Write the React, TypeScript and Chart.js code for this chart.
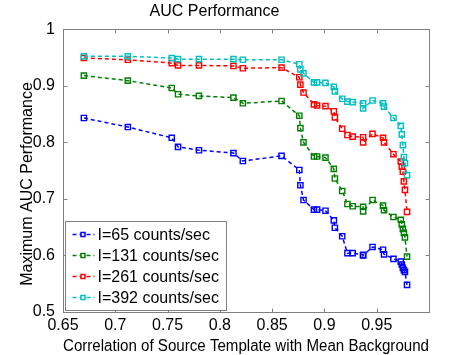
import React, { useEffect, useRef } from 'react';
import { Chart, registerables } from 'chart.js';

Chart.register(...registerables);

const chartTitle = 'AUC Performance';
const xAxisTitle = 'Correlation of Source Template with Mean Background';
const yAxisTitle = 'Maximum AUC Performance';

const correlation = [
  0.670, 0.712, 0.754, 0.760, 0.780, 0.813, 0.822, 0.859, 0.876, 0.877,
  0.880, 0.890, 0.893, 0.901, 0.909, 0.910, 0.917, 0.922, 0.927, 0.937,
  0.937, 0.946, 0.956, 0.957, 0.966, 0.973, 0.974, 0.975, 0.976, 0.977, 0.979,
];

const auc65 = [
  0.843, 0.827, 0.808, 0.792, 0.786, 0.781, 0.767, 0.776, 0.751, 0.724,
  0.698, 0.681, 0.681, 0.679, 0.662, 0.649, 0.634, 0.604, 0.604, 0.601,
  0.600, 0.615, 0.610, 0.602, 0.594, 0.589, 0.584, 0.578, 0.574, 0.571, 0.548,
];

const auc131 = [
  0.918, 0.909, 0.896, 0.885, 0.882, 0.879, 0.869, 0.873, 0.847, 0.825,
  0.800, 0.775, 0.775, 0.773, 0.753, 0.736, 0.714, 0.691, 0.687, 0.686,
  0.678, 0.698, 0.688, 0.680, 0.668, 0.663, 0.655, 0.647, 0.640, 0.632, 0.598,
];

const auc261 = [
  0.949, 0.946, 0.940, 0.936, 0.936, 0.935, 0.931, 0.932, 0.915, 0.902,
  0.888, 0.867, 0.865, 0.864, 0.855, 0.844, 0.824, 0.813, 0.810, 0.809,
  0.800, 0.815, 0.808, 0.800, 0.779, 0.766, 0.757, 0.748, 0.731, 0.716, 0.677,
];

const auc392 = [
  0.952, 0.952, 0.949, 0.947, 0.947, 0.947, 0.946, 0.946, 0.938, 0.929,
  0.922, 0.906, 0.906, 0.905, 0.898, 0.890, 0.877, 0.872, 0.871, 0.869,
  0.860, 0.874, 0.869, 0.863, 0.843, 0.829, 0.814, 0.795, 0.774, 0.763, 0.742,
];

const seriesLabels = ['I=65 counts/sec', 'I=131 counts/sec', 'I=261 counts/sec', 'I=392 counts/sec'];
const seriesValues = [auc65, auc131, auc261, auc392];
const seriesColors = ['#0000ff', '#008000', '#ff0000', '#00bfbf'];

const xTickValues = [0.65, 0.7, 0.75, 0.8, 0.85, 0.9, 0.95];
const yTickValues = [0.5, 0.6, 0.7, 0.8, 0.9, 1];

const FONT = "'Liberation Sans', Arial, Helvetica, sans-serif";
const AXIS_GRAY = '#808080';

const fmt = (v: number) => String(Number(v.toFixed(2)));

const framePlugin = {
  id: 'matlabFrame',
  afterDatasetsDraw(chart: any) {
    const { ctx, chartArea: a, scales } = chart;
    ctx.save();
    ctx.strokeStyle = AXIS_GRAY;
    ctx.lineWidth = 1;
    const L = Math.round(a.left) + 0.5;
    const R = Math.round(a.right) + 0.5;
    const T = Math.round(a.top) + 0.5;
    const B = Math.round(a.bottom) + 0.5;
    ctx.strokeRect(L, T, R - L, B - T);
    const tl = 4;
    ctx.beginPath();
    for (const v of xTickValues) {
      const px = Math.round(scales.x.getPixelForValue(v)) + 0.5;
      ctx.moveTo(px, B); ctx.lineTo(px, B - tl);
      ctx.moveTo(px, T); ctx.lineTo(px, T + tl);
    }
    for (const v of yTickValues) {
      const py = Math.round(scales.y.getPixelForValue(v)) + 0.5;
      ctx.moveTo(L, py); ctx.lineTo(L + tl, py);
      ctx.moveTo(R, py); ctx.lineTo(R - tl, py);
    }
    ctx.stroke();
    ctx.restore();
  },
  afterDraw(chart: any) {
    const { ctx, chartArea: a } = chart;
    ctx.save();
    // y axis title
    ctx.fillStyle = '#000';
    ctx.font = `16px ${FONT}`;
    ctx.textAlign = 'center';
    ctx.textBaseline = 'middle';
    ctx.translate(28, 184);
    ctx.rotate(-Math.PI / 2);
    ctx.fillText(yAxisTitle, 0, 0);
    ctx.restore();

    // legend
    ctx.save();
    const bx = Math.round(a.left) + 2.5;
    const by = Math.round(a.bottom) - 90.5;
    const bw = 161;
    const bh = 89;
    ctx.fillStyle = '#ffffff';
    ctx.fillRect(bx, by, bw, bh);
    ctx.strokeStyle = AXIS_GRAY;
    ctx.lineWidth = 1;
    ctx.strokeRect(bx, by, bw, bh);
    chart.data.datasets.forEach((ds: any, i: number) => {
      const cy = by + 13 + i * 21;
      ctx.strokeStyle = ds.borderColor;
      ctx.lineWidth = 1.5;
      ctx.setLineDash([4, 3]);
      ctx.beginPath();
      ctx.moveTo(bx + 7, cy);
      ctx.lineTo(bx + 29, cy);
      ctx.stroke();
      ctx.setLineDash([]);
      ctx.fillStyle = '#fff';
      ctx.fillRect(bx + 15.5, cy - 2, 4, 4);
      ctx.strokeRect(bx + 15.5, cy - 2, 4, 4);
      ctx.fillStyle = '#000';
      ctx.font = `16px ${FONT}`;
      ctx.textAlign = 'left';
      ctx.textBaseline = 'middle';
      ctx.fillText(ds.label, bx + 32, cy + 1);
    });
    ctx.restore();
  },
};

export default function App() {
  const canvasRef = useRef<HTMLCanvasElement | null>(null);

  useEffect(() => {
    if (!canvasRef.current) return;
    const datasets = seriesValues.map((vals, i) => ({
      label: seriesLabels[i],
      data: vals.map((y, j) => ({ x: correlation[j], y })),
      borderColor: seriesColors[i],
      backgroundColor: seriesColors[i],
      borderWidth: 1.5,
      borderDash: [4, 3],
      pointStyle: 'rect' as const,
      pointRadius: 3.7,
      pointBorderWidth: 1.4,
      pointBackgroundColor: 'rgba(0,0,0,0)',
      pointBorderColor: seriesColors[i],
      tension: 0,
      order: 4 - i,
    }));

    const chart = new Chart(canvasRef.current, {
      type: 'line',
      data: { datasets },
      options: {
        animation: false,
        responsive: false,
        maintainAspectRatio: false,
        layout: { padding: { top: 0, right: 45, left: 0, bottom: 0 } },
        plugins: {
          legend: { display: false },
          tooltip: { enabled: false },
          title: {
            display: true,
            text: chartTitle,
            color: '#000',
            font: { family: FONT, size: 16, weight: 'normal' },
            padding: { top: 2, bottom: 8 },
          },
        },
        scales: {
          x: {
            type: 'linear',
            min: 0.65,
            max: 1.0,
            afterFit: (s: any) => { s.height = 43; },
            afterBuildTicks: (s: any) => { s.ticks = xTickValues.map((v) => ({ value: v })); },
            grid: { display: false, drawTicks: false },
            border: { display: false },
            ticks: {
              color: '#000',
              font: { family: FONT, size: 16 },
              padding: 4,
              maxRotation: 0,
              autoSkip: false,
              callback: (v: any) => fmt(Number(v)),
            },
            title: {
              display: true,
              text: xAxisTitle,
              color: '#000',
              font: { family: FONT, size: 16, lineHeight: 1.0 },
              padding: { top: 0, bottom: 0 },
            },
          },
          y: {
            type: 'linear',
            min: 0.5,
            max: 1.0,
            afterFit: (s: any) => { s.width = 63; },
            afterBuildTicks: (s: any) => { s.ticks = yTickValues.map((v) => ({ value: v })); },
            grid: { display: false, drawTicks: false },
            border: { display: false },
            ticks: {
              color: '#000',
              font: { family: FONT, size: 16 },
              padding: 8,
              autoSkip: false,
              callback: (v: any) => fmt(Number(v)),
            },
          },
        },
      },
      plugins: [framePlugin],
    });
    return () => chart.destroy();
  }, []);

  return (
    <div style={{ position: 'absolute', left: 0, top: 0, width: 474, height: 355, background: '#fff' }}>
      <canvas ref={canvasRef} width={474} height={355} style={{ width: 474, height: 355 }} />
    </div>
  );
}
